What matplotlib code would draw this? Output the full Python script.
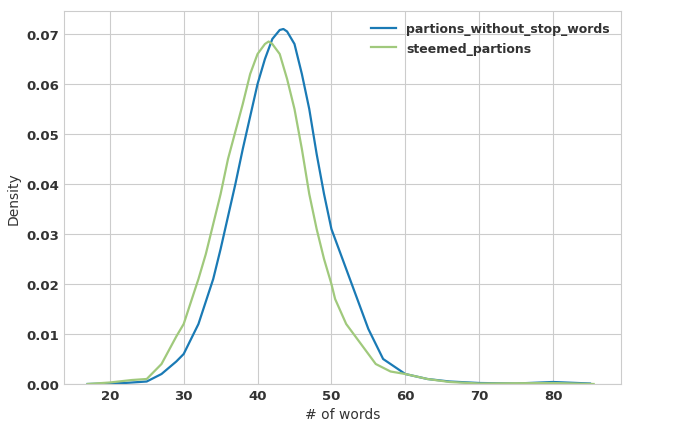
import matplotlib
matplotlib.use("Agg")
import matplotlib.pyplot as plt

blue_x = [17, 22, 25, 27, 29, 30, 32, 34, 35, 37, 38, 40, 41, 42, 43, 43.5, 44, 45, 46, 47, 48, 49, 50, 50.5, 52, 53, 55, 57, 60, 63, 66, 70, 75, 80, 85]
blue_y = [0, 0.0002, 0.0005, 0.002, 0.0045, 0.006, 0.012, 0.021, 0.027, 0.040, 0.047, 0.060, 0.065, 0.069, 0.0708, 0.071, 0.0705, 0.068, 0.062, 0.055, 0.046, 0.038, 0.031, 0.029, 0.023, 0.019, 0.011, 0.005, 0.002, 0.001, 0.0005, 0.0002, 0.0001, 0.0004, 0.0001]
green_x = [17, 20, 23, 25, 27, 29, 30, 32, 33, 35, 36, 38, 39, 40, 41, 41.5, 42, 43, 44, 45, 46, 47, 48, 49, 50, 50.5, 52, 53, 56, 58, 60, 63, 66, 70, 80, 85.5]
green_y = [0, 0.0003, 0.0008, 0.001, 0.004, 0.0095, 0.012, 0.021, 0.026, 0.038, 0.045, 0.056, 0.062, 0.066, 0.068, 0.0685, 0.068, 0.066, 0.061, 0.055, 0.047, 0.038, 0.031, 0.025, 0.020, 0.017, 0.012, 0.010, 0.004, 0.0025, 0.002, 0.001, 0.0004, 0.0001, 0.0002, 0]

plt.rcParams['font.family'] = ['DejaVu Sans']
fig = plt.figure(figsize=(6.82, 4.27), dpi=100)
ax = fig.add_axes([64/682, 42/427, 557/682, 373/427])
ax.plot(blue_x, blue_y, color='#1a7ab5', lw=1.6, label='partions_without_stop_words')
ax.plot(green_x, green_y, color='#a0c97c', lw=1.6, label='steemed_partions')
ax.set_xlim(13.8, 89.2)
ax.set_ylim(0, 0.0746)
ax.set_xticks([20, 30, 40, 50, 60, 70, 80])
ax.set_yticks([0, 0.01, 0.02, 0.03, 0.04, 0.05, 0.06, 0.07])
ax.set_yticklabels([f"{v:.2f}" for v in ax.get_yticks()])
ax.grid(True, color='#cccccc', lw=0.8)
ax.set_axisbelow(True)
for s in ax.spines.values():
    s.set_color('#cccccc')
for lab in ax.get_xticklabels() + ax.get_yticklabels():
    lab.set_fontweight('bold')
    lab.set_color('#333333')
ax.tick_params(length=0, labelsize=9.5)
ax.set_xlabel('# of words', fontsize=10, color='#333333')
ax.set_ylabel('Density', fontsize=10, color='#333333')
leg = ax.legend(loc='upper right', frameon=False, prop={'weight': 'bold', 'size': 9})
for t in leg.get_texts():
    t.set_color('#333333')
fig.savefig('out.png', dpi=100)
